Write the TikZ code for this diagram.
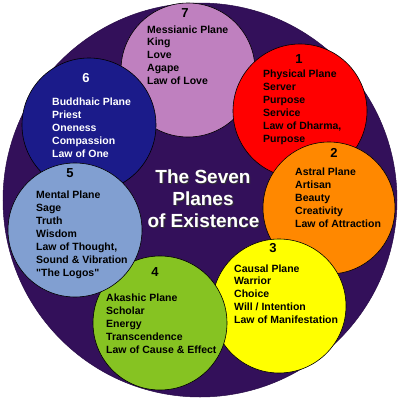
\documentclass[tikz,border=0pt]{standalone}
\usepackage{fontspec}
\setmainfont{Liberation Sans}
\definecolor{bgpurple}{HTML}{33105A}
\definecolor{cviolet}{HTML}{BF80BF}
\definecolor{cnavy}{HTML}{1B1B8A}
\definecolor{clblue}{HTML}{819FD1}
\definecolor{cgreen}{HTML}{86C322}
\definecolor{cyellow}{HTML}{FFFF00}
\definecolor{corange}{HTML}{FF8800}
\definecolor{cred}{HTML}{FF0000}
\tikzset{
  plane/.style={draw=black, line width=0.6pt},
  txt/.style={inner sep=0pt, anchor=base west, font=\fontsize{10.5}{13}\selectfont\bfseries},
  num/.style={inner sep=0pt, anchor=center, font=\fontsize{13}{13}\selectfont\bfseries},
  ttl/.style={inner sep=0pt, anchor=base, font=\fontsize{19}{22}\selectfont\bfseries}
}
\begin{document}
\begin{tikzpicture}[x=1pt,y=-1pt]
\useasboundingbox (0,0) rectangle (400,400);
\fill[white] (0,0) rectangle (400,400);
% big circle
\draw[fill=bgpurple, draw=bgpurple!80!black, line width=0.5pt] (200,200) circle (197);
% plane circles (drawing order matters)
\draw[plane, fill=cviolet] (188,70) circle (67);
\draw[plane, fill=cred] (300,111) circle (67);
\draw[plane, fill=corange] (329,208) circle (66);
\draw[plane, fill=cyellow] (279,306) circle (67);
\draw[plane, fill=cgreen] (160,323) circle (67);
\draw[plane, fill=cnavy] (89,125) circle (67);
\draw[plane, fill=clblue] (75,230) circle (67);
% numbers
\node[num] (n7) at (185,13) {7};
\node[num] (n1) at (299,59) {1};
\node[num] (n2) at (334,153) {2};
\node[num] (n3) at (273,248) {3};
\node[num] (n4) at (155,272) {4};
\node[num, text=white] (n6) at (86,78) {6};
\node[num] (n5) at (70,173) {5};
% texts
\foreach \t [count=\i] in {Messianic Plane, King, Love, Agape, Law of Love}
  \node[txt] (p7-\i) at (147,{33+12.8*(\i-1)}) {\t};
\foreach \t [count=\i] in {Physical Plane, Server, Purpose, Service, {Law of Dharma,}, Purpose}
  \node[txt] (p1-\i) at (263,{77+13*(\i-1)}) {\t};
\foreach \t [count=\i] in {Astral Plane, Artisan, Beauty, Creativity, Law of Attraction}
  \node[txt] (p2-\i) at (295,{175+13*(\i-1)}) {\t};
\foreach \t [count=\i] in {Causal Plane, Warrior, Choice, Will / Intention, Law of Manifestation}
  \node[txt] (p3-\i) at (234,{272+12.8*(\i-1)}) {\t};
\foreach \t [count=\i] in {Akashic Plane, Scholar, Energy, Transcendence, Law of Cause \& Effect}
  \node[txt] (p4-\i) at (106,{301+13*(\i-1)}) {\t};
\foreach \t [count=\i] in {Mental Plane, Sage, Truth, Wisdom, {Law of Thought,}, Sound \& Vibration, {\textquotedbl The Logos\textquotedbl}}
  \node[txt] (p5-\i) at (36,{198+13*(\i-1)}) {\t};
\foreach \t [count=\i] in {Buddhaic Plane, Priest, Oneness, Compassion, Law of One}
  \node[txt, text=white] (p6-\i) at (52,{105+13*(\i-1)}) {\t};
% title with shadow
\node[ttl, text=black!80] (s1) at (204,184) {The Seven};
\node[ttl, text=black!80] (s2) at (204,206) {Planes};
\node[ttl, text=black!80] (s3) at (204.5,228) {of Existence};
\node[ttl, text=white] (t1) at (203,183) {The Seven};
\node[ttl, text=white] (t2) at (203,205) {Planes};
\node[ttl, text=white] (t3) at (203.5,227) {of Existence};
\end{tikzpicture}
\end{document}
